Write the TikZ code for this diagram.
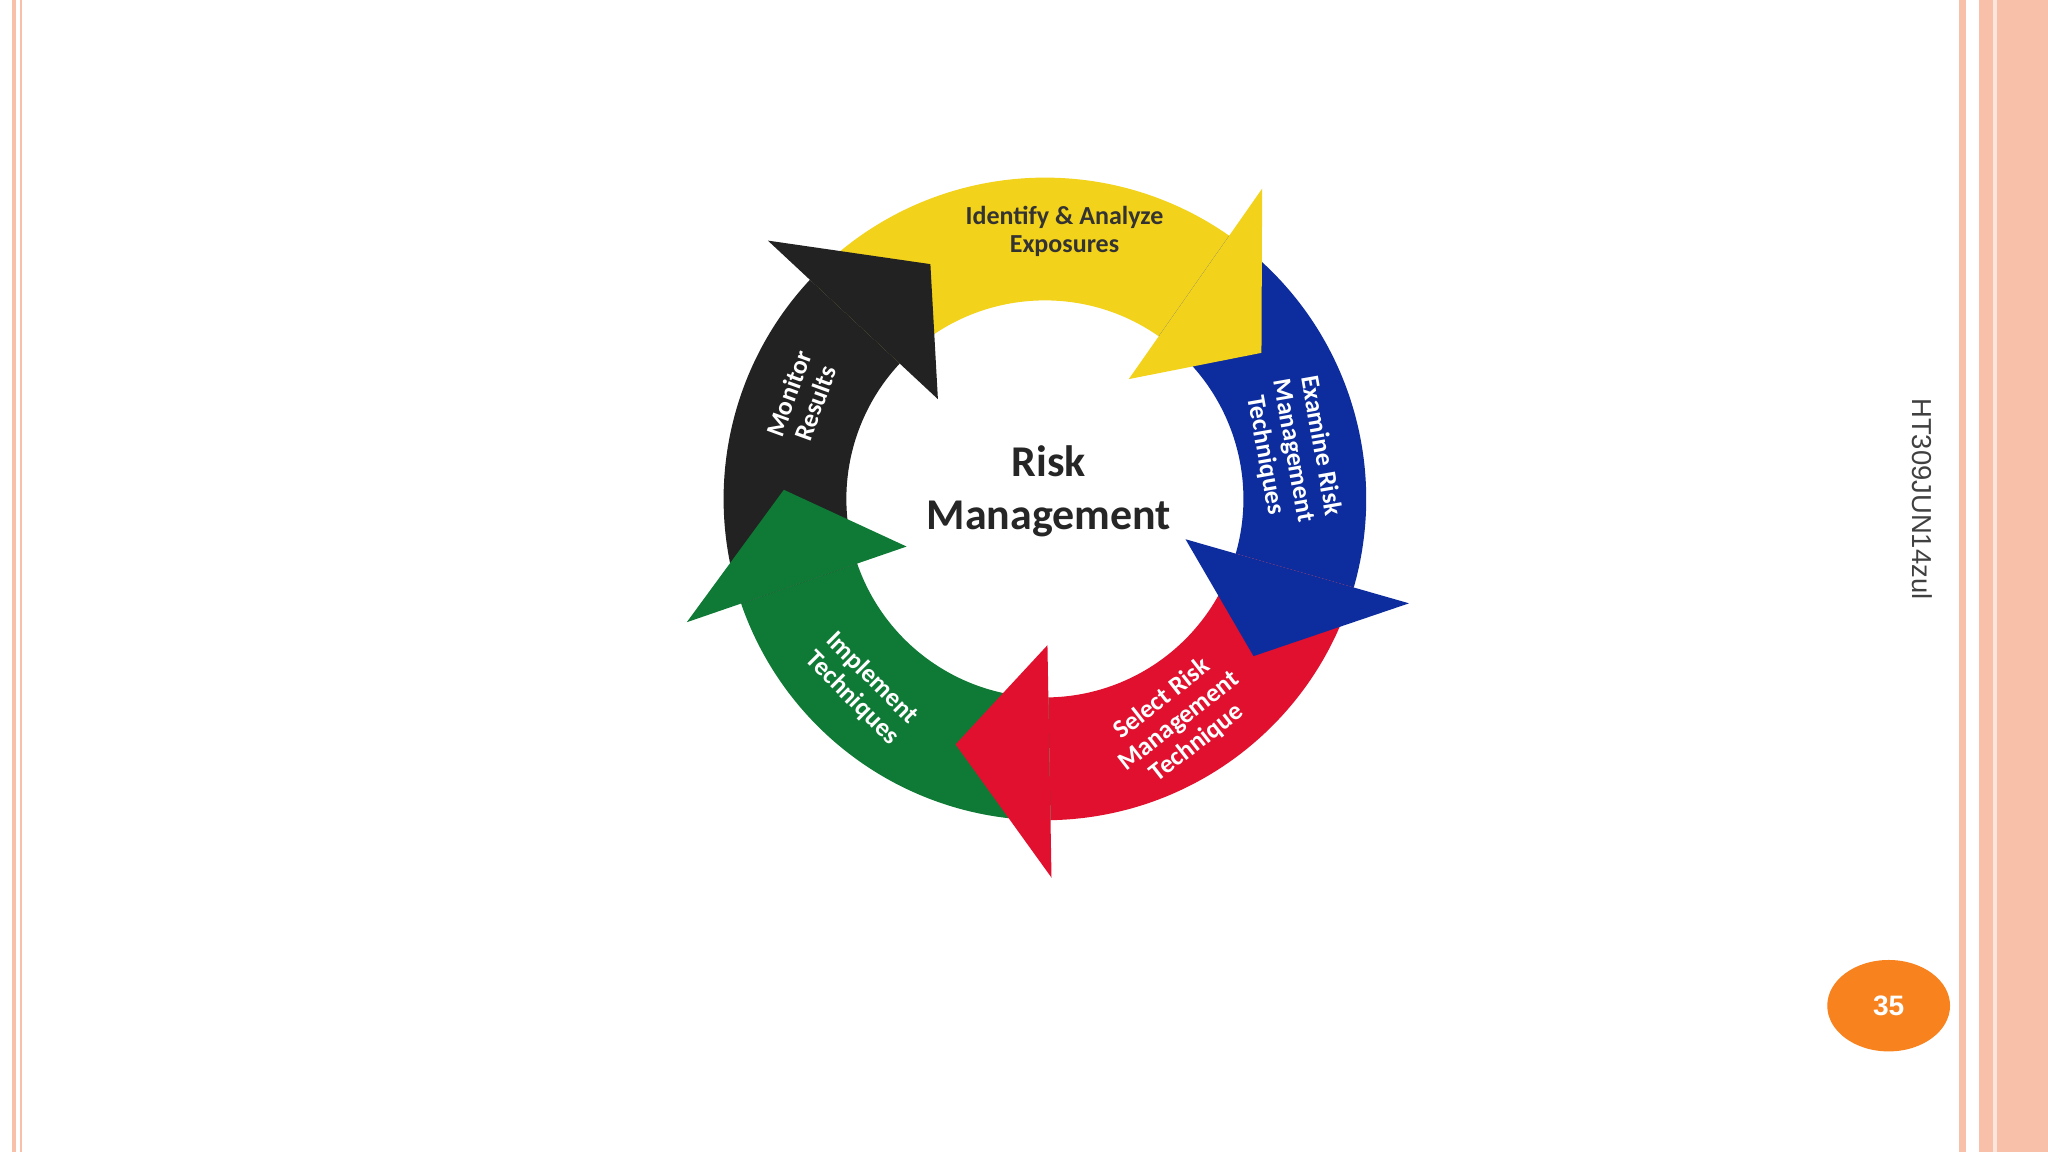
\documentclass[tikz,border=0pt]{standalone}
\usepackage{fontspec}
\setmainfont{Carlito}
\newfontfamily\lib{Liberation Sans}
\definecolor{cyel}{HTML}{F2D21B}
\definecolor{cblu}{HTML}{0D2D9E}
\definecolor{cred}{HTML}{E0102E}
\definecolor{cgrn}{HTML}{0E7A35}
\definecolor{cblk}{HTML}{222222}
\definecolor{salmon}{HTML}{F8C0A8}
\definecolor{corange}{HTML}{F7821E}
\tikzset{lbl/.style={font=\fontsize{7.4}{8}\selectfont\bfseries,align=center,text=white,inner sep=1pt}}
\newcommand{\rbody}[3]{\fill[#1] (#2:246) arc[start angle=#2,end angle=#3,radius=246] -- (#3:152) arc[start angle=#3,end angle=#2,radius=152] -- cycle;}
\newcommand{\rhead}[2]{\pgfmathsetmacro\tipa{#2-21}\fill[#1] (#2:290) -- (\tipa:200) -- (#2:112) -- cycle;}
\begin{document}
\begin{tikzpicture}[x=0.013061cm,y=0.013061cm]
\useasboundingbox (0,0) rectangle (1568,882);
\fill[white] (0,0) rectangle (1568,882);
% borders
\fill[salmon] (9,0) rectangle (12,882);
\fill[salmon] (15,0) rectangle (17,882);
\fill[salmon] (1500,0) rectangle (1505,882);
\fill[salmon] (1515,0) rectangle (1568,882);
\fill[white!60!salmon] (1526,0) rectangle (1529,882);
\begin{scope}[shift={(800,500)}]
\rbody{cyel}{137}{55}
\rbody{cblu}{55}{-16}
\rbody{cred}{-16}{-89}
\rbody{cgrn}{-89}{-161}
\rbody{cblk}{-161}{-223}
\rhead{cyel}{55}
\rhead{cblu}{-16}
\rhead{cred}{-89}
\rhead{cgrn}{-161}
\rhead{cblk}{137}
\end{scope}
\node[font=\fontsize{12.5}{15}\selectfont\bfseries,align=center,text=black!85] (center) at (803,506) {Risk\\Management};
\node[lbl,text=black!80] (id) at (815,705) {Identify \& Analyze\\Exposures};
\node[lbl,rotate=-80] (ex) at (990,537) {Examine Risk\\Management\\Techniques};
\node[lbl,rotate=38] (sel) at (903,330) {Select Risk\\Management\\Technique};
\node[lbl,rotate=-45] (imp) at (660,355) {Implement\\Techniques};
\node[lbl,rotate=70] (mon) at (614,577) {Monitor\\Results};
\node[font=\lib\fontsize{7.8}{9}\selectfont,rotate=-90,text=black!75] (code) at (1472,500) {HT309JUN14zul};
\fill[corange] (1446,112) ellipse[x radius=47,y radius=35];
\node[font=\lib\fontsize{8}{9}\selectfont\bfseries,text=white] (pg) at (1446,112) {35};
\end{tikzpicture}
\end{document}
